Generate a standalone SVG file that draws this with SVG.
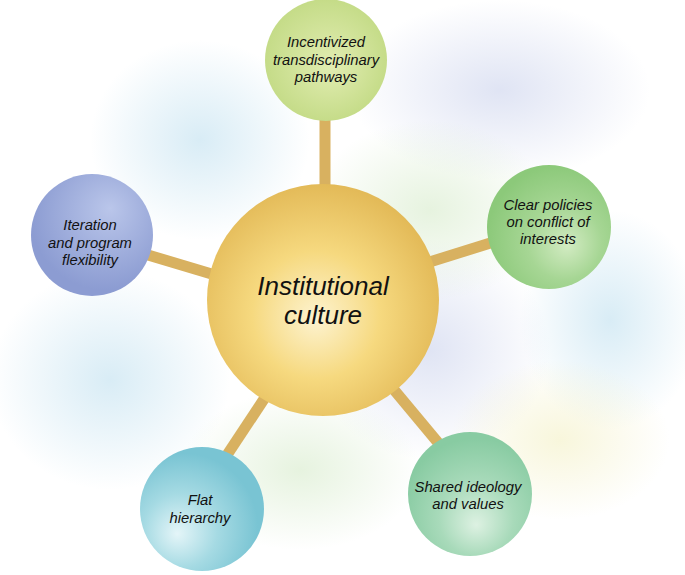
<svg xmlns="http://www.w3.org/2000/svg" width="685" height="575" viewBox="0 0 685 575">
<defs>
<style>
.t{font-family:"Liberation Sans",Arial,sans-serif;font-style:italic;fill:#111;text-anchor:middle}
.s{font-size:14.8px}
.c{font-size:26px}
.conn line{stroke:#D8B160;stroke-width:11}
</style>
<radialGradient id="gC" cx="0.47" cy="0.55" r="0.55" fx="0.47" fy="0.58"><stop offset="0" stop-color="#FDF3D0"/><stop offset="0.5" stop-color="#F6D97F"/><stop offset="1" stop-color="#E3BA58"/></radialGradient>
<radialGradient id="gT" cx="0.5" cy="0.5" r="0.55" fx="0.55" fy="0.55"><stop offset="0" stop-color="#E2EDB2"/><stop offset="1" stop-color="#C2DA84"/></radialGradient>
<radialGradient id="gR" cx="0.6" cy="0.6" r="0.6" fx="0.65" fy="0.65"><stop offset="0" stop-color="#D2EBC2"/><stop offset="0.5" stop-color="#A6D694"/><stop offset="1" stop-color="#8CC97A"/></radialGradient>
<radialGradient id="gL" cx="0.6" cy="0.35" r="0.6" fx="0.65" fy="0.28"><stop offset="0" stop-color="#BAC6EA"/><stop offset="1" stop-color="#8C9CD2"/></radialGradient>
<radialGradient id="gBL" cx="0.35" cy="0.65" r="0.6" fx="0.3" fy="0.7"><stop offset="0" stop-color="#E4F5F8"/><stop offset="0.5" stop-color="#A5DAE3"/><stop offset="1" stop-color="#79C4D3"/></radialGradient>
<radialGradient id="gBR" cx="0.55" cy="0.65" r="0.6" fx="0.55" fy="0.75"><stop offset="0" stop-color="#DDF1E2"/><stop offset="0.5" stop-color="#A8DABA"/><stop offset="1" stop-color="#88CBA2"/></radialGradient>
<radialGradient id="b1"><stop offset="0" stop-color="#A9D5EA" stop-opacity="0.45"/><stop offset="1" stop-color="#A9D5EA" stop-opacity="0"/></radialGradient>
<radialGradient id="b2"><stop offset="0" stop-color="#B9C3E6" stop-opacity="0.45"/><stop offset="1" stop-color="#B9C3E6" stop-opacity="0"/></radialGradient>
<radialGradient id="b3"><stop offset="0" stop-color="#C8E4B8" stop-opacity="0.45"/><stop offset="1" stop-color="#C8E4B8" stop-opacity="0"/></radialGradient>
<radialGradient id="b4"><stop offset="0" stop-color="#F1EDB8" stop-opacity="0.5"/><stop offset="1" stop-color="#F1EDB8" stop-opacity="0"/></radialGradient>
</defs>
<rect width="685" height="575" fill="#fff"/>
<g id="background">
<ellipse cx="110" cy="380" rx="120" ry="110" fill="url(#b1)"/>
<ellipse cx="200" cy="140" rx="110" ry="100" fill="url(#b1)"/>
<ellipse cx="500" cy="90" rx="150" ry="90" fill="url(#b2)"/>
<ellipse cx="430" cy="350" rx="120" ry="110" fill="url(#b2)"/>
<ellipse cx="430" cy="210" rx="120" ry="90" fill="url(#b3)"/>
<ellipse cx="610" cy="320" rx="90" ry="110" fill="url(#b1)"/>
<ellipse cx="560" cy="440" rx="110" ry="80" fill="url(#b4)"/>
<ellipse cx="300" cy="470" rx="120" ry="80" fill="url(#b3)"/>
</g>
<g id="connectors" class="conn">
<line x1="325" y1="115" x2="325" y2="190"/>
<line x1="420" y1="265" x2="500" y2="240"/>
<line x1="148" y1="255" x2="215" y2="275"/>
<line x1="270" y1="390" x2="225" y2="458"/>
<line x1="390" y1="385" x2="440" y2="445"/>
</g>
<g id="center">
<circle cx="323" cy="300" r="116" fill="url(#gC)"/>
<text class="t c" x="323" y="295">Institutional</text>
<text class="t c" x="323" y="324">culture</text>
</g>
<g id="top">
<circle cx="326" cy="60" r="61" fill="url(#gT)"/>
<text class="t s" x="326" y="47">Incentivized</text>
<text class="t s" x="326" y="65">transdisciplinary</text>
<text class="t s" x="326" y="82">pathways</text>
</g>
<g id="right">
<circle cx="549" cy="227" r="62" fill="url(#gR)"/>
<text class="t s" x="548" y="210">Clear policies</text>
<text class="t s" x="548" y="227">on conflict of</text>
<text class="t s" x="548" y="244">interests</text>
</g>
<g id="left">
<circle cx="92" cy="235" r="61" fill="url(#gL)"/>
<text class="t s" x="90" y="230">Iteration</text>
<text class="t s" x="90" y="248">and program</text>
<text class="t s" x="90" y="265">flexibility</text>
</g>
<g id="bottom-left">
<circle cx="202" cy="509" r="62" fill="url(#gBL)"/>
<text class="t s" x="200" y="505">Flat</text>
<text class="t s" x="200" y="523">hierarchy</text>
</g>
<g id="bottom-right">
<circle cx="470" cy="494" r="62" fill="url(#gBR)"/>
<text class="t s" x="468" y="492">Shared ideology</text>
<text class="t s" x="468" y="509">and values</text>
</g>
</svg>
